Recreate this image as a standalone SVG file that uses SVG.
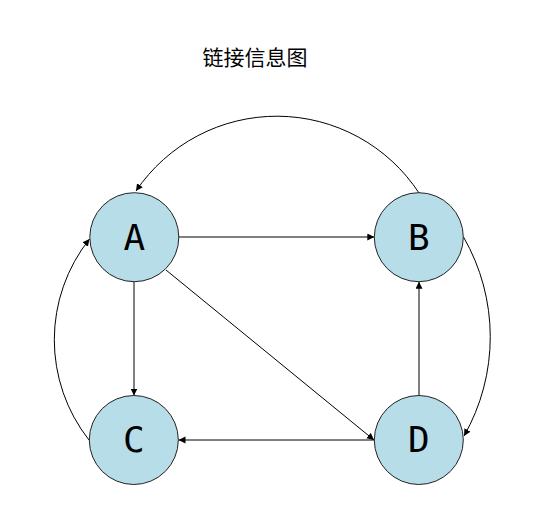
<svg xmlns="http://www.w3.org/2000/svg" width="550" height="527" viewBox="0 0 550 527">
<style>
.node circle{fill:#B7DDE8;stroke:#222;stroke-width:1}
.node text{font-family:"DejaVu Sans Mono",monospace;font-size:36px;text-anchor:middle;fill:#000}
.edge{fill:none;stroke:#000;stroke-width:1;marker-end:url(#arr)}
.title{font-family:"Noto Sans CJK SC",sans-serif;font-size:21px;text-anchor:middle;fill:#000}
</style>
<defs>
<marker id="arr" markerUnits="userSpaceOnUse" markerWidth="8" markerHeight="8" refX="7" refY="3.5" orient="auto">
<path d="M0,0 L7,3.5 L0,7 z" fill="#000"/>
</marker>
</defs>
<rect width="550" height="527" fill="#fff"/>
<text class="title" x="255" y="65">链接信息图</text>
<g id="connectors">
<path class="edge" d="M419,193 A170,170 0 0 0 136,191"/>
<path class="edge" d="M463.5,237 A200,200 0 0 1 464,436"/>
<path class="edge" d="M89,440 A162,162 0 0 1 89.5,239"/>
<path class="edge" d="M178.5,237 L374.3,237"/>
<path class="edge" d="M134,281.7 L134,395.5"/>
<path class="edge" d="M419,395.5 L419,281.7"/>
<path class="edge" d="M374.3,440 L178.5,440"/>
<path class="edge" d="M166,270 L374,440"/>
</g>
<g id="A" class="node"><circle cx="134.3" cy="237.2" r="44.5"/><text x="134.3" y="249.5">A</text></g>
<g id="B" class="node"><circle cx="418.8" cy="237.2" r="44.5"/><text x="418.8" y="249.5">B</text></g>
<g id="C" class="node"><circle cx="133.8" cy="440" r="44.5"/><text x="133.8" y="452.3">C</text></g>
<g id="D" class="node"><circle cx="418.8" cy="440" r="44.5"/><text x="418.8" y="452.3">D</text></g>
</svg>
